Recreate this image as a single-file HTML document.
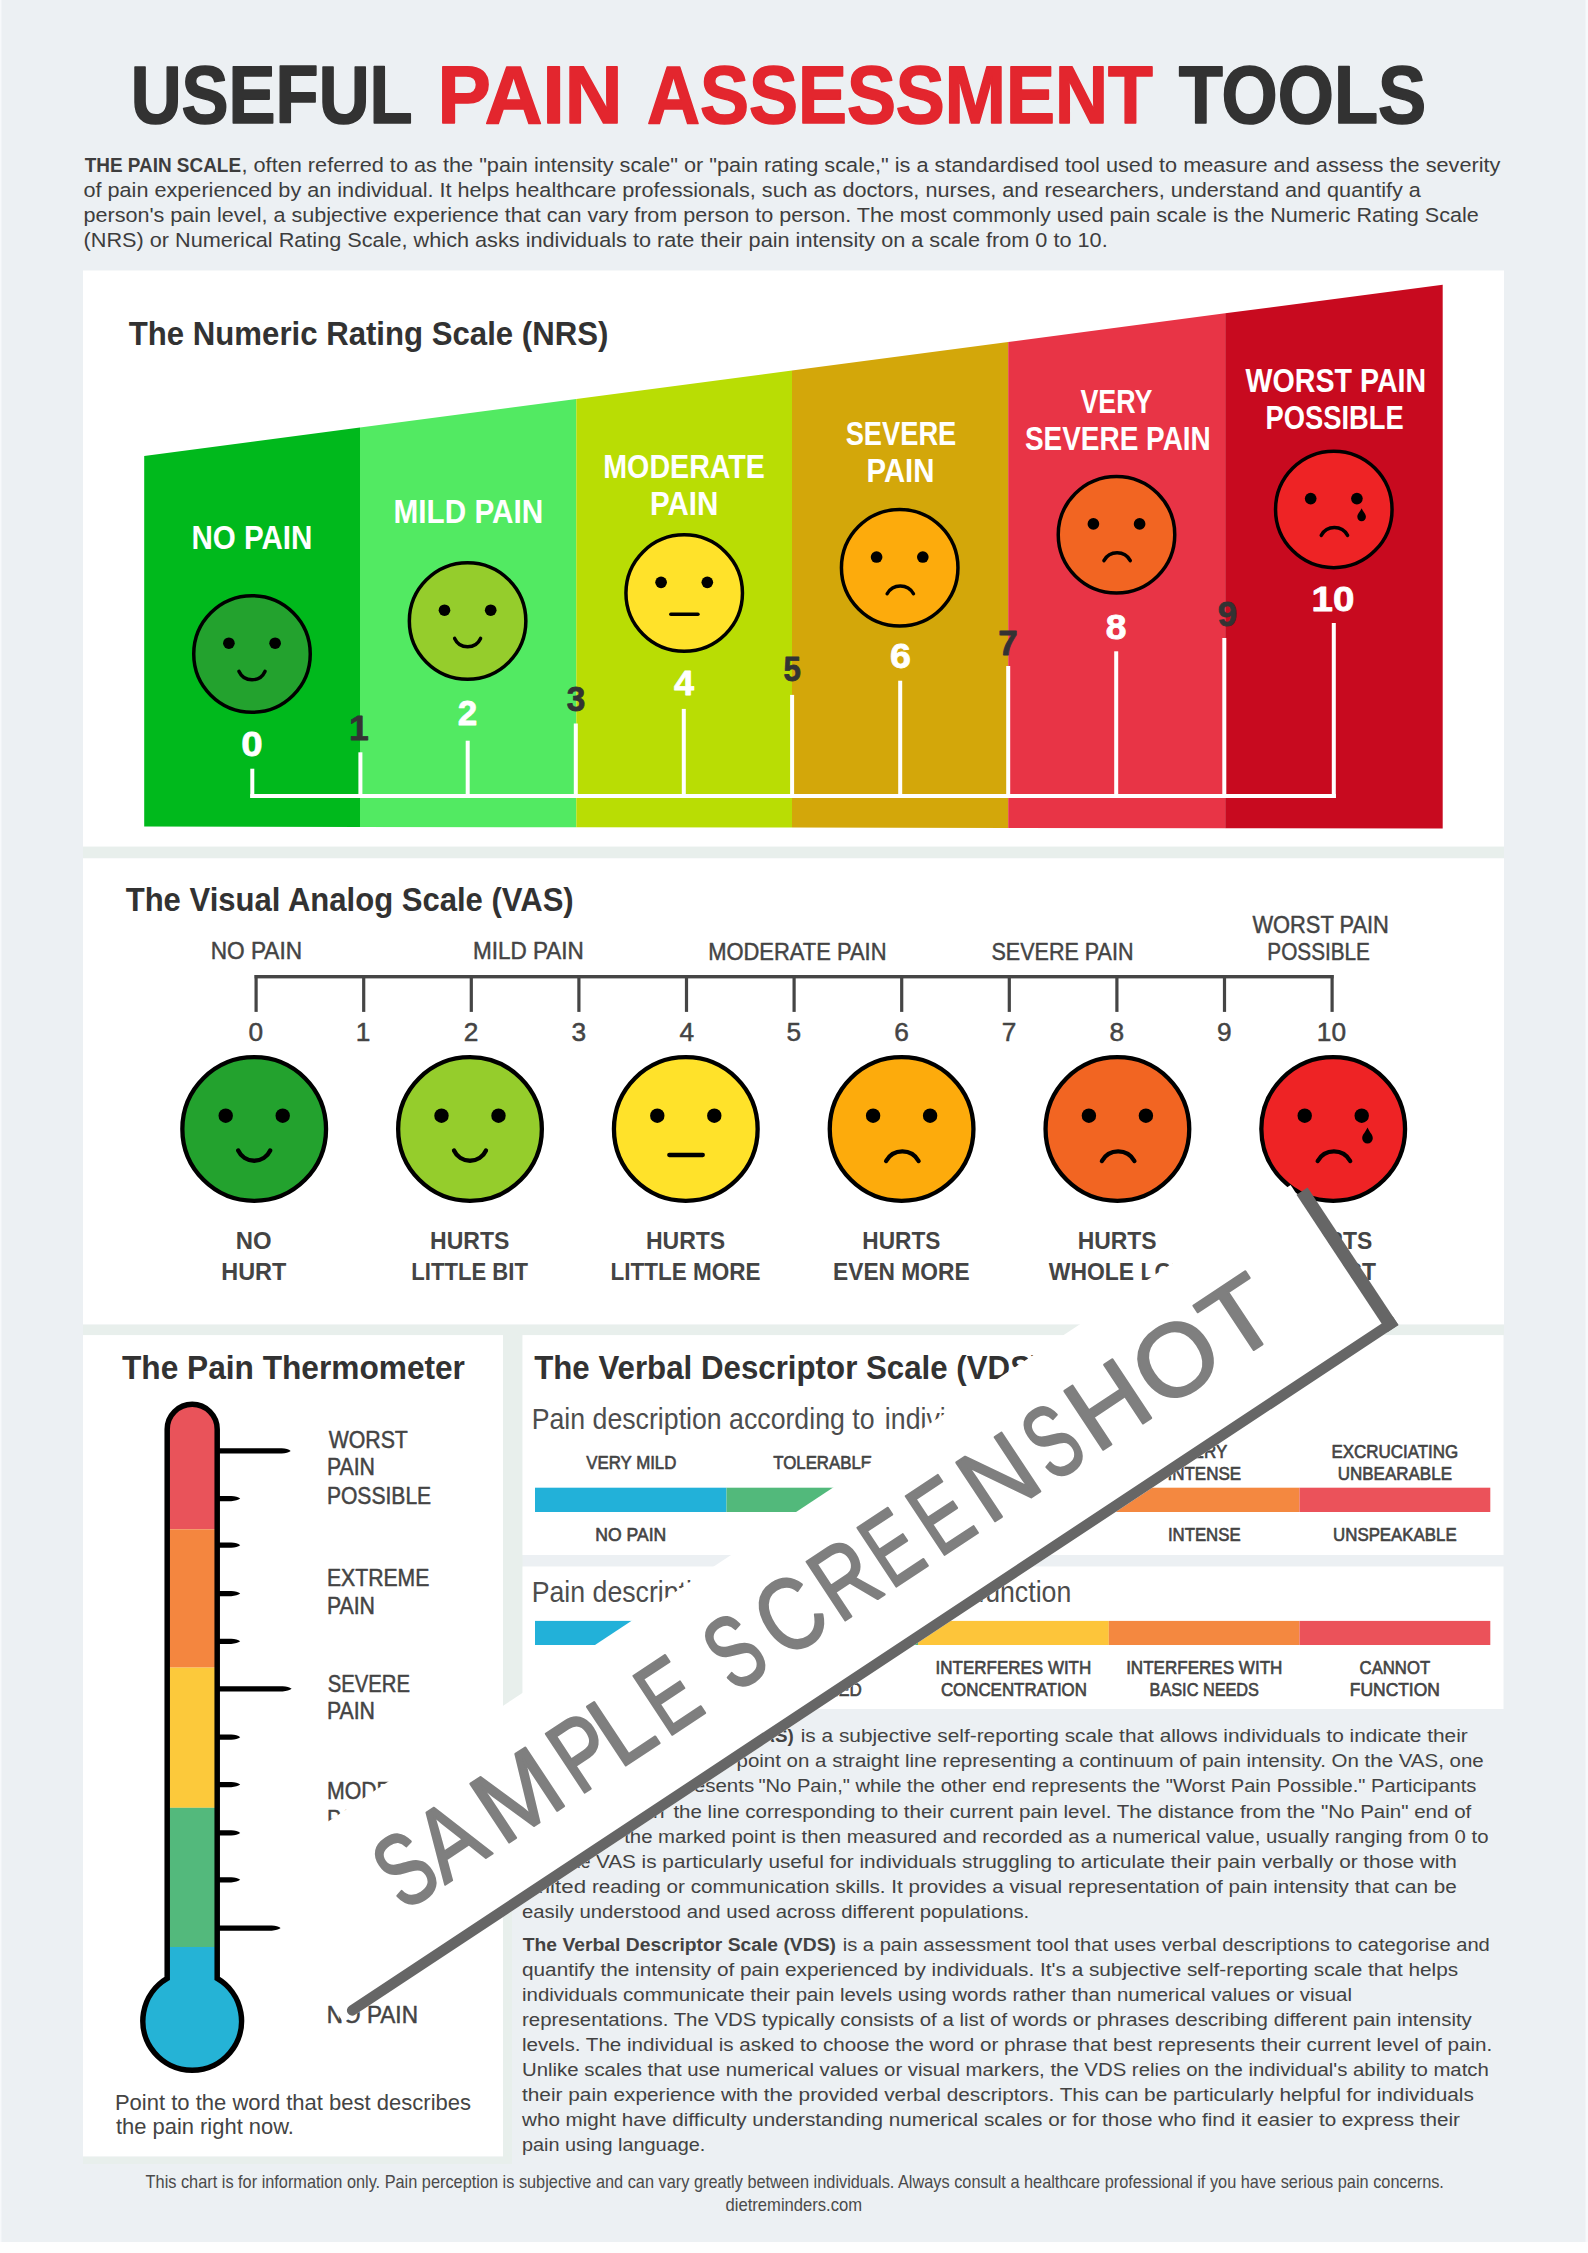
<!DOCTYPE html>
<html><head><meta charset="utf-8"><title>Useful Pain Assessment Tools</title>
<style>
html,body{margin:0;padding:0;background:#fff;}
body{width:1588px;height:2253px;overflow:hidden;position:relative;}
svg{position:absolute;left:0;top:0;}
svg text{font-family:"Liberation Sans",sans-serif;white-space:pre;}
</style></head><body>
<svg width="1588" height="2253" viewBox="0 0 1588 2253">
<rect x="0" y="0" width="1588" height="2253" fill="#FEFEFE"/>
<rect x="0" y="0" width="1588" height="2242" fill="#F7F9FB"/>
<rect x="1.5" y="0" width="1584" height="2242" fill="#ECF0F3"/>
<rect x="83.00" y="846.50" width="1421.00" height="11.80" fill="#E8EFEC"/>
<rect x="83.00" y="1324.40" width="1421.00" height="10.70" fill="#E8EFEC"/>
<rect x="503.00" y="1335.10" width="19.50" height="372.90" fill="#E8EFEC"/>
<rect x="503.00" y="1708.00" width="9.00" height="456.00" fill="#E8EFEC"/>
<rect x="83.00" y="2156.40" width="429.00" height="7.60" fill="#E8EFEC"/>
<rect x="83.00" y="270.50" width="1421.00" height="576.00" fill="#ffffff"/>
<rect x="83.00" y="858.30" width="1421.00" height="466.10" fill="#ffffff"/>
<rect x="83.00" y="1335.10" width="420.00" height="821.30" fill="#ffffff"/>
<rect x="522.50" y="1335.10" width="981.00" height="219.90" fill="#ffffff"/>
<rect x="522.50" y="1566.50" width="981.00" height="142.50" fill="#ffffff"/>
<polygon points="144.20,456.10 360.00,427.60 360.00,826.93 144.20,826.60" fill="#00B91C"/>
<polygon points="360.00,427.60 576.30,399.04 576.30,827.27 360.00,826.93" fill="#52EA62"/>
<polygon points="576.30,399.04 792.00,370.56 792.00,827.60 576.30,827.27" fill="#B9DD04"/>
<polygon points="792.00,370.56 1008.20,342.01 1008.20,827.93 792.00,827.60" fill="#D3A70A"/>
<polygon points="1008.20,342.01 1225.20,313.35 1225.20,828.26 1008.20,827.93" fill="#E83446"/>
<polygon points="1225.20,313.35 1442.70,284.63 1442.70,828.60 1225.20,828.26" fill="#C80A1F"/>
<rect x="250.30" y="768.70" width="4.00" height="29.30" fill="#ffffff"/>
<rect x="358.40" y="752.30" width="4.00" height="45.70" fill="#ffffff"/>
<rect x="465.70" y="740.70" width="4.00" height="57.30" fill="#ffffff"/>
<rect x="573.80" y="723.50" width="4.00" height="74.50" fill="#ffffff"/>
<rect x="681.80" y="708.90" width="4.00" height="89.10" fill="#ffffff"/>
<rect x="790.10" y="694.90" width="4.00" height="103.10" fill="#ffffff"/>
<rect x="898.20" y="680.70" width="4.00" height="117.30" fill="#ffffff"/>
<rect x="1006.20" y="666.00" width="4.00" height="132.00" fill="#ffffff"/>
<rect x="1114.20" y="651.30" width="4.00" height="146.70" fill="#ffffff"/>
<rect x="1222.30" y="638.00" width="4.00" height="160.00" fill="#ffffff"/>
<rect x="1331.80" y="623.00" width="4.00" height="175.00" fill="#ffffff"/>
<rect x="250.30" y="794.00" width="1085.50" height="4.00" fill="#ffffff"/>
<g transform="translate(252.00,654.00) scale(0.8108)"><circle r="71.85" fill="#23A22E" stroke="#000" stroke-width="4.3"/><circle cx="-28.5" cy="-13.3" r="7.2" fill="#000"/><circle cx="28.5" cy="-13.3" r="7.2" fill="#000"/><path d="M-16,21.5 A17.6,17.6 0 0 0 16,21.5" fill="none" stroke="#000" stroke-width="4.3" stroke-linecap="round"/></g>
<g transform="translate(467.60,621.00) scale(0.8108)"><circle r="71.85" fill="#95CD2C" stroke="#000" stroke-width="4.3"/><circle cx="-28.5" cy="-13.3" r="7.2" fill="#000"/><circle cx="28.5" cy="-13.3" r="7.2" fill="#000"/><path d="M-16,21.5 A17.6,17.6 0 0 0 16,21.5" fill="none" stroke="#000" stroke-width="4.3" stroke-linecap="round"/></g>
<g transform="translate(684.20,593.10) scale(0.8108)"><circle r="71.85" fill="#FFE22A" stroke="#000" stroke-width="4.3"/><circle cx="-28.5" cy="-13.3" r="7.2" fill="#000"/><circle cx="28.5" cy="-13.3" r="7.2" fill="#000"/><path d="M-16.5,26 L17,26" fill="none" stroke="#000" stroke-width="4.3" stroke-linecap="round"/></g>
<g transform="translate(899.70,567.80) scale(0.8108)"><circle r="71.85" fill="#FDAB0C" stroke="#000" stroke-width="4.3"/><circle cx="-28.5" cy="-13.3" r="7.2" fill="#000"/><circle cx="28.5" cy="-13.3" r="7.2" fill="#000"/><path d="M-15.5,32 A18.5,18.5 0 0 1 17,32" fill="none" stroke="#000" stroke-width="4.3" stroke-linecap="round"/></g>
<g transform="translate(1116.50,534.70) scale(0.8108)"><circle r="71.85" fill="#F26522" stroke="#000" stroke-width="4.3"/><circle cx="-28.5" cy="-13.3" r="7.2" fill="#000"/><circle cx="28.5" cy="-13.3" r="7.2" fill="#000"/><path d="M-15.5,32 A18.5,18.5 0 0 1 17,32" fill="none" stroke="#000" stroke-width="4.3" stroke-linecap="round"/></g>
<g transform="translate(1333.80,509.40) scale(0.8108)"><circle r="71.85" fill="#EE2325" stroke="#000" stroke-width="4.3"/><circle cx="-28.5" cy="-13.3" r="7.2" fill="#000"/><circle cx="28.5" cy="-13.3" r="7.2" fill="#000"/><path d="M-15.5,32 A18.5,18.5 0 0 1 17,32" fill="none" stroke="#000" stroke-width="4.3" stroke-linecap="round"/><path d="M34.3,-1.5 C36.2,3 39.6,5.5 39.6,9.2 A5.3,5.3 0 0 1 29,9.2 C29,5.5 32.4,3 34.3,-1.5 Z" fill="#000"/></g>
<g transform="translate(254.20,1129.00) scale(1.0000)"><circle r="71.85" fill="#23A22E" stroke="#000" stroke-width="4.3"/><circle cx="-28.5" cy="-13.3" r="7.2" fill="#000"/><circle cx="28.5" cy="-13.3" r="7.2" fill="#000"/><path d="M-16,21.5 A17.6,17.6 0 0 0 16,21.5" fill="none" stroke="#000" stroke-width="4.3" stroke-linecap="round"/></g>
<g transform="translate(470.00,1129.00) scale(1.0000)"><circle r="71.85" fill="#95CD2C" stroke="#000" stroke-width="4.3"/><circle cx="-28.5" cy="-13.3" r="7.2" fill="#000"/><circle cx="28.5" cy="-13.3" r="7.2" fill="#000"/><path d="M-16,21.5 A17.6,17.6 0 0 0 16,21.5" fill="none" stroke="#000" stroke-width="4.3" stroke-linecap="round"/></g>
<g transform="translate(685.80,1129.00) scale(1.0000)"><circle r="71.85" fill="#FFE22A" stroke="#000" stroke-width="4.3"/><circle cx="-28.5" cy="-13.3" r="7.2" fill="#000"/><circle cx="28.5" cy="-13.3" r="7.2" fill="#000"/><path d="M-16.5,26 L17,26" fill="none" stroke="#000" stroke-width="4.3" stroke-linecap="round"/></g>
<g transform="translate(901.60,1129.00) scale(1.0000)"><circle r="71.85" fill="#FDAB0C" stroke="#000" stroke-width="4.3"/><circle cx="-28.5" cy="-13.3" r="7.2" fill="#000"/><circle cx="28.5" cy="-13.3" r="7.2" fill="#000"/><path d="M-15.5,32 A18.5,18.5 0 0 1 17,32" fill="none" stroke="#000" stroke-width="4.3" stroke-linecap="round"/></g>
<g transform="translate(1117.40,1129.00) scale(1.0000)"><circle r="71.85" fill="#F26522" stroke="#000" stroke-width="4.3"/><circle cx="-28.5" cy="-13.3" r="7.2" fill="#000"/><circle cx="28.5" cy="-13.3" r="7.2" fill="#000"/><path d="M-15.5,32 A18.5,18.5 0 0 1 17,32" fill="none" stroke="#000" stroke-width="4.3" stroke-linecap="round"/></g>
<g transform="translate(1333.20,1129.00) scale(1.0000)"><circle r="71.85" fill="#EE2325" stroke="#000" stroke-width="4.3"/><circle cx="-28.5" cy="-13.3" r="7.2" fill="#000"/><circle cx="28.5" cy="-13.3" r="7.2" fill="#000"/><path d="M-15.5,32 A18.5,18.5 0 0 1 17,32" fill="none" stroke="#000" stroke-width="4.3" stroke-linecap="round"/><path d="M34.3,-1.5 C36.2,3 39.6,5.5 39.6,9.2 A5.3,5.3 0 0 1 29,9.2 C29,5.5 32.4,3 34.3,-1.5 Z" fill="#000"/></g>
<rect x="254.60" y="975.00" width="1079.00" height="3.40" fill="#454545"/>
<rect x="254.50" y="975.00" width="3.20" height="36.90" fill="#454545"/>
<rect x="362.10" y="975.00" width="3.20" height="36.90" fill="#454545"/>
<rect x="469.70" y="975.00" width="3.20" height="36.90" fill="#454545"/>
<rect x="577.30" y="975.00" width="3.20" height="36.90" fill="#454545"/>
<rect x="684.90" y="975.00" width="3.20" height="36.90" fill="#454545"/>
<rect x="792.50" y="975.00" width="3.20" height="36.90" fill="#454545"/>
<rect x="900.10" y="975.00" width="3.20" height="36.90" fill="#454545"/>
<rect x="1007.70" y="975.00" width="3.20" height="36.90" fill="#454545"/>
<rect x="1115.30" y="975.00" width="3.20" height="36.90" fill="#454545"/>
<rect x="1222.90" y="975.00" width="3.20" height="36.90" fill="#454545"/>
<rect x="1330.50" y="975.00" width="3.20" height="36.90" fill="#454545"/>
<clipPath id="tc"><path d="M167.2,1978.4 L167.2,1429.25 A25,25 0 0 1 217.2,1429.25 L217.2,1978.4 A49.35,49.35 0 1 1 167.2,1978.4 Z"/></clipPath>
<g clip-path="url(#tc)">
<rect x="130" y="1390.00" width="130" height="139.30" fill="#E9535A"/>
<rect x="130" y="1529.30" width="130" height="138.30" fill="#F4863F"/>
<rect x="130" y="1667.60" width="130" height="140.20" fill="#FCC93B"/>
<rect x="130" y="1807.80" width="130" height="139.20" fill="#53B97C"/>
<rect x="130" y="1947.00" width="130" height="133.00" fill="#25B3D6"/>
</g>
<path d="M167.2,1978.4 L167.2,1429.25 A25,25 0 0 1 217.2,1429.25 L217.2,1978.4 A49.35,49.35 0 1 1 167.2,1978.4 Z" fill="none" stroke="#000" stroke-width="5.5"/>
<path d="M216,1448.30 L281.70,1448.30 Q287.70,1448.70 290.70,1450.90 Q287.70,1453.10 281.70,1453.50 L216,1453.50 Z" fill="#000"/>
<path d="M216,1496.00 L231.20,1496.00 Q237.20,1496.40 240.20,1498.60 Q237.20,1500.80 231.20,1501.20 L216,1501.20 Z" fill="#000"/>
<path d="M216,1542.60 L231.20,1542.60 Q237.20,1543.00 240.20,1545.20 Q237.20,1547.40 231.20,1547.80 L216,1547.80 Z" fill="#000"/>
<path d="M216,1591.00 L231.20,1591.00 Q237.20,1591.40 240.20,1593.60 Q237.20,1595.80 231.20,1596.20 L216,1596.20 Z" fill="#000"/>
<path d="M216,1638.70 L231.20,1638.70 Q237.20,1639.10 240.20,1641.30 Q237.20,1643.50 231.20,1643.90 L216,1643.90 Z" fill="#000"/>
<path d="M216,1686.20 L282.60,1686.20 Q288.60,1686.60 291.60,1688.80 Q288.60,1691.00 282.60,1691.40 L216,1691.40 Z" fill="#000"/>
<path d="M216,1734.60 L231.20,1734.60 Q237.20,1735.00 240.20,1737.20 Q237.20,1739.40 231.20,1739.80 L216,1739.80 Z" fill="#000"/>
<path d="M216,1782.00 L231.20,1782.00 Q237.20,1782.40 240.20,1784.60 Q237.20,1786.80 231.20,1787.20 L216,1787.20 Z" fill="#000"/>
<path d="M216,1830.30 L231.20,1830.30 Q237.20,1830.70 240.20,1832.90 Q237.20,1835.10 231.20,1835.50 L216,1835.50 Z" fill="#000"/>
<path d="M216,1877.20 L231.20,1877.20 Q237.20,1877.60 240.20,1879.80 Q237.20,1882.00 231.20,1882.40 L216,1882.40 Z" fill="#000"/>
<path d="M216,1925.50 L271.70,1925.50 Q277.70,1925.90 280.70,1928.10 Q277.70,1930.30 271.70,1930.70 L216,1930.70 Z" fill="#000"/>
<rect x="535.00" y="1487.70" width="191.50" height="24.30" fill="#22B1D9"/>
<rect x="726.50" y="1487.70" width="191.50" height="24.30" fill="#52B97B"/>
<rect x="918.00" y="1487.70" width="190.80" height="24.30" fill="#FDC53A"/>
<rect x="1108.80" y="1487.70" width="190.70" height="24.30" fill="#F48840"/>
<rect x="1299.50" y="1487.70" width="190.80" height="24.30" fill="#EB525A"/>
<rect x="535.00" y="1620.90" width="191.50" height="24.10" fill="#22B1D9"/>
<rect x="726.50" y="1620.90" width="191.50" height="24.10" fill="#52B97B"/>
<rect x="918.00" y="1620.90" width="190.80" height="24.10" fill="#FDC53A"/>
<rect x="1108.80" y="1620.90" width="190.70" height="24.10" fill="#F48840"/>
<rect x="1299.50" y="1620.90" width="190.80" height="24.10" fill="#EB525A"/>
<text x="130.63" y="122.60" font-size="81.25" font-weight="bold" fill="#323232" textLength="281.99" lengthAdjust="spacingAndGlyphs" stroke="#323232" stroke-width="1.60" stroke-linejoin="round">USEFUL</text>
<text x="437.38" y="122.60" font-size="81.25" font-weight="bold" fill="#E3262E" textLength="185.02" lengthAdjust="spacingAndGlyphs" stroke="#E3262E" stroke-width="1.60" stroke-linejoin="round">PAIN</text>
<text x="646.99" y="122.60" font-size="81.25" font-weight="bold" fill="#E3262E" textLength="505.78" lengthAdjust="spacingAndGlyphs" stroke="#E3262E" stroke-width="1.60" stroke-linejoin="round">ASSESSMENT</text>
<text x="1178.80" y="122.60" font-size="81.25" font-weight="bold" fill="#323232" textLength="247.35" lengthAdjust="spacingAndGlyphs" stroke="#323232" stroke-width="1.60" stroke-linejoin="round">TOOLS</text>
<text x="84.70" y="172.40" font-size="21.08" font-weight="bold" fill="#3d3d3d" textLength="156.34" lengthAdjust="spacingAndGlyphs">THE PAIN SCALE</text>
<text x="241.47" y="172.40" font-size="21.08" fill="#3d3d3d" textLength="1258.95" lengthAdjust="spacingAndGlyphs">, often referred to as the &quot;pain intensity scale&quot; or &quot;pain rating scale,&quot; is a standardised tool used to measure and assess the severity</text>
<text x="83.50" y="197.30" font-size="21.08" fill="#3d3d3d" textLength="1337.41" lengthAdjust="spacingAndGlyphs">of pain experienced by an individual. It helps healthcare professionals, such as doctors, nurses, and researchers, understand and quantify a</text>
<text x="83.50" y="222.20" font-size="21.08" fill="#3d3d3d" textLength="1395.23" lengthAdjust="spacingAndGlyphs">person's pain level, a subjective experience that can vary from person to person. The most commonly used pain scale is the Numeric Rating Scale</text>
<text x="83.50" y="247.10" font-size="21.08" fill="#3d3d3d" textLength="1024.21" lengthAdjust="spacingAndGlyphs">(NRS) or Numerical Rating Scale, which asks individuals to rate their pain intensity on a scale from 0 to 10.</text>
<text x="128.80" y="345.30" font-size="32.99" font-weight="bold" fill="#323232" textLength="479.53" lengthAdjust="spacingAndGlyphs">The Numeric Rating Scale (NRS)</text>
<text x="125.70" y="910.90" font-size="32.99" font-weight="bold" fill="#323232" textLength="448.02" lengthAdjust="spacingAndGlyphs">The Visual Analog Scale (VAS)</text>
<text x="122.00" y="1378.80" font-size="32.99" font-weight="bold" fill="#323232" textLength="342.94" lengthAdjust="spacingAndGlyphs">The Pain Thermometer</text>
<text x="534.20" y="1378.50" font-size="32.99" font-weight="bold" fill="#323232" textLength="507.25" lengthAdjust="spacingAndGlyphs">The Verbal Descriptor Scale (VDS)</text>
<text x="191.43" y="548.70" font-size="33.43" font-weight="bold" fill="#ffffff" textLength="120.85" lengthAdjust="spacingAndGlyphs">NO PAIN</text>
<text x="393.62" y="522.60" font-size="33.43" font-weight="bold" fill="#ffffff" textLength="149.58" lengthAdjust="spacingAndGlyphs">MILD PAIN</text>
<text x="603.29" y="477.60" font-size="33.43" font-weight="bold" fill="#ffffff" textLength="161.62" lengthAdjust="spacingAndGlyphs">MODERATE</text>
<text x="649.93" y="514.70" font-size="33.43" font-weight="bold" fill="#ffffff" textLength="68.35" lengthAdjust="spacingAndGlyphs">PAIN</text>
<text x="845.70" y="444.80" font-size="33.43" font-weight="bold" fill="#ffffff" textLength="110.55" lengthAdjust="spacingAndGlyphs">SEVERE</text>
<text x="866.54" y="481.90" font-size="33.43" font-weight="bold" fill="#ffffff" textLength="67.93" lengthAdjust="spacingAndGlyphs">PAIN</text>
<text x="1080.40" y="413.10" font-size="33.43" font-weight="bold" fill="#ffffff" textLength="72.03" lengthAdjust="spacingAndGlyphs">VERY</text>
<text x="1024.90" y="450.20" font-size="33.43" font-weight="bold" fill="#ffffff" textLength="185.89" lengthAdjust="spacingAndGlyphs">SEVERE PAIN</text>
<text x="1245.60" y="392.00" font-size="33.43" font-weight="bold" fill="#ffffff" textLength="180.53" lengthAdjust="spacingAndGlyphs">WORST PAIN</text>
<text x="1265.57" y="428.50" font-size="33.43" font-weight="bold" fill="#ffffff" textLength="138.09" lengthAdjust="spacingAndGlyphs">POSSIBLE</text>
<text x="241.28" y="755.60" font-size="35.84" font-weight="bold" fill="#ffffff" textLength="21.36" lengthAdjust="spacingAndGlyphs" stroke="#ffffff" stroke-width="0.80" stroke-linejoin="round">0</text>
<text x="349.06" y="740.10" font-size="35.84" font-weight="bold" fill="#333333" textLength="19.81" lengthAdjust="spacingAndGlyphs" stroke="#333333" stroke-width="0.80" stroke-linejoin="round">1</text>
<text x="457.82" y="724.90" font-size="35.84" font-weight="bold" fill="#ffffff" textLength="19.48" lengthAdjust="spacingAndGlyphs" stroke="#ffffff" stroke-width="0.80" stroke-linejoin="round">2</text>
<text x="566.75" y="711.30" font-size="35.84" font-weight="bold" fill="#333333" textLength="18.56" lengthAdjust="spacingAndGlyphs" stroke="#333333" stroke-width="0.80" stroke-linejoin="round">3</text>
<text x="673.95" y="695.00" font-size="35.84" font-weight="bold" fill="#ffffff" textLength="20.03" lengthAdjust="spacingAndGlyphs" stroke="#ffffff" stroke-width="0.80" stroke-linejoin="round">4</text>
<text x="783.48" y="681.00" font-size="35.84" font-weight="bold" fill="#333333" textLength="17.38" lengthAdjust="spacingAndGlyphs" stroke="#333333" stroke-width="0.80" stroke-linejoin="round">5</text>
<text x="890.10" y="667.50" font-size="35.84" font-weight="bold" fill="#ffffff" textLength="20.92" lengthAdjust="spacingAndGlyphs" stroke="#ffffff" stroke-width="0.80" stroke-linejoin="round">6</text>
<text x="998.32" y="654.50" font-size="35.84" font-weight="bold" fill="#333333" textLength="19.48" lengthAdjust="spacingAndGlyphs" stroke="#333333" stroke-width="0.80" stroke-linejoin="round">7</text>
<text x="1105.81" y="638.60" font-size="35.84" font-weight="bold" fill="#ffffff" textLength="20.70" lengthAdjust="spacingAndGlyphs" stroke="#ffffff" stroke-width="0.80" stroke-linejoin="round">8</text>
<text x="1217.78" y="626.20" font-size="35.84" font-weight="bold" fill="#333333" textLength="19.37" lengthAdjust="spacingAndGlyphs" stroke="#333333" stroke-width="0.80" stroke-linejoin="round">9</text>
<text x="1311.60" y="610.70" font-size="35.84" font-weight="bold" fill="#ffffff" textLength="42.85" lengthAdjust="spacingAndGlyphs" stroke="#ffffff" stroke-width="0.80" stroke-linejoin="round">10</text>
<text x="210.65" y="959.48" font-size="23.33" fill="#444444" textLength="91.40" lengthAdjust="spacingAndGlyphs" stroke="#444444" stroke-width="0.45" stroke-linejoin="round">NO PAIN</text>
<text x="472.96" y="959.48" font-size="23.33" fill="#444444" textLength="110.89" lengthAdjust="spacingAndGlyphs" stroke="#444444" stroke-width="0.45" stroke-linejoin="round">MILD PAIN</text>
<text x="708.18" y="960.38" font-size="23.33" fill="#444444" textLength="178.32" lengthAdjust="spacingAndGlyphs" stroke="#444444" stroke-width="0.45" stroke-linejoin="round">MODERATE PAIN</text>
<text x="991.50" y="960.38" font-size="23.33" fill="#444444" textLength="141.97" lengthAdjust="spacingAndGlyphs" stroke="#444444" stroke-width="0.45" stroke-linejoin="round">SEVERE PAIN</text>
<text x="1252.42" y="933.38" font-size="23.33" fill="#444444" textLength="136.47" lengthAdjust="spacingAndGlyphs" stroke="#444444" stroke-width="0.45" stroke-linejoin="round">WORST PAIN</text>
<text x="1267.34" y="960.38" font-size="23.33" fill="#444444" textLength="102.63" lengthAdjust="spacingAndGlyphs" stroke="#444444" stroke-width="0.45" stroke-linejoin="round">POSSIBLE</text>
<text x="248.60" y="1041.05" font-size="26.27" fill="#444444" stroke="#444444" stroke-width="0.50" stroke-linejoin="round">0</text>
<text x="355.70" y="1041.05" font-size="26.27" fill="#444444" stroke="#444444" stroke-width="0.50" stroke-linejoin="round">1</text>
<text x="463.80" y="1041.05" font-size="26.27" fill="#444444" stroke="#444444" stroke-width="0.50" stroke-linejoin="round">2</text>
<text x="571.40" y="1041.05" font-size="26.27" fill="#444444" stroke="#444444" stroke-width="0.50" stroke-linejoin="round">3</text>
<text x="679.50" y="1041.05" font-size="26.27" fill="#444444" stroke="#444444" stroke-width="0.50" stroke-linejoin="round">4</text>
<text x="786.60" y="1041.05" font-size="26.27" fill="#444444" stroke="#444444" stroke-width="0.50" stroke-linejoin="round">5</text>
<text x="894.20" y="1041.05" font-size="26.27" fill="#444444" stroke="#444444" stroke-width="0.50" stroke-linejoin="round">6</text>
<text x="1001.80" y="1041.05" font-size="26.27" fill="#444444" stroke="#444444" stroke-width="0.50" stroke-linejoin="round">7</text>
<text x="1109.40" y="1041.05" font-size="26.27" fill="#444444" stroke="#444444" stroke-width="0.50" stroke-linejoin="round">8</text>
<text x="1217.00" y="1041.05" font-size="26.27" fill="#444444" stroke="#444444" stroke-width="0.50" stroke-linejoin="round">9</text>
<text x="1316.80" y="1041.05" font-size="26.27" fill="#444444" stroke="#444444" stroke-width="0.50" stroke-linejoin="round">10</text>
<text x="235.82" y="1248.50" font-size="23.26" font-weight="bold" fill="#444444" textLength="35.81" lengthAdjust="spacingAndGlyphs">NO</text>
<text x="221.24" y="1279.50" font-size="23.26" font-weight="bold" fill="#444444" textLength="65.11" lengthAdjust="spacingAndGlyphs">HURT</text>
<text x="430.11" y="1248.50" font-size="23.26" font-weight="bold" fill="#444444" textLength="79.29" lengthAdjust="spacingAndGlyphs">HURTS</text>
<text x="411.35" y="1279.50" font-size="23.26" font-weight="bold" fill="#444444" textLength="116.54" lengthAdjust="spacingAndGlyphs">LITTLE BIT</text>
<text x="645.91" y="1248.50" font-size="23.26" font-weight="bold" fill="#444444" textLength="79.29" lengthAdjust="spacingAndGlyphs">HURTS</text>
<text x="610.53" y="1279.50" font-size="23.26" font-weight="bold" fill="#444444" textLength="150.06" lengthAdjust="spacingAndGlyphs">LITTLE MORE</text>
<text x="862.33" y="1248.50" font-size="23.26" font-weight="bold" fill="#444444" textLength="78.07" lengthAdjust="spacingAndGlyphs">HURTS</text>
<text x="833.12" y="1279.50" font-size="23.26" font-weight="bold" fill="#444444" textLength="136.47" lengthAdjust="spacingAndGlyphs">EVEN MORE</text>
<text x="1077.68" y="1248.50" font-size="23.26" font-weight="bold" fill="#444444" textLength="78.95" lengthAdjust="spacingAndGlyphs">HURTS</text>
<text x="1048.75" y="1279.50" font-size="23.26" font-weight="bold" fill="#444444" textLength="137.50" lengthAdjust="spacingAndGlyphs">WHOLE LOT</text>
<text x="1293.48" y="1248.50" font-size="23.26" font-weight="bold" fill="#444444" textLength="78.95" lengthAdjust="spacingAndGlyphs">HURTS</text>
<text x="1290.65" y="1279.50" font-size="23.26" font-weight="bold" fill="#444444" textLength="85.30" lengthAdjust="spacingAndGlyphs">WORST</text>
<text x="328.65" y="1448.25" font-size="24.42" fill="#444444" textLength="79.18" lengthAdjust="spacingAndGlyphs" stroke="#444444" stroke-width="0.50" stroke-linejoin="round">WORST</text>
<text x="326.91" y="1475.45" font-size="24.42" fill="#444444" textLength="48.08" lengthAdjust="spacingAndGlyphs" stroke="#444444" stroke-width="0.50" stroke-linejoin="round">PAIN</text>
<text x="326.92" y="1503.55" font-size="24.42" fill="#444444" textLength="104.27" lengthAdjust="spacingAndGlyphs" stroke="#444444" stroke-width="0.50" stroke-linejoin="round">POSSIBLE</text>
<text x="326.91" y="1585.75" font-size="24.42" fill="#444444" textLength="102.48" lengthAdjust="spacingAndGlyphs" stroke="#444444" stroke-width="0.50" stroke-linejoin="round">EXTREME</text>
<text x="326.91" y="1613.55" font-size="24.42" fill="#444444" textLength="48.08" lengthAdjust="spacingAndGlyphs" stroke="#444444" stroke-width="0.50" stroke-linejoin="round">PAIN</text>
<text x="327.82" y="1691.55" font-size="24.42" fill="#444444" textLength="82.16" lengthAdjust="spacingAndGlyphs" stroke="#444444" stroke-width="0.50" stroke-linejoin="round">SEVERE</text>
<text x="326.91" y="1719.35" font-size="24.42" fill="#444444" textLength="48.08" lengthAdjust="spacingAndGlyphs" stroke="#444444" stroke-width="0.50" stroke-linejoin="round">PAIN</text>
<text x="326.91" y="1799.35" font-size="24.42" fill="#444444" textLength="118.99" lengthAdjust="spacingAndGlyphs" stroke="#444444" stroke-width="0.50" stroke-linejoin="round">MODERATE</text>
<text x="326.91" y="1827.15" font-size="24.42" fill="#444444" textLength="48.08" lengthAdjust="spacingAndGlyphs" stroke="#444444" stroke-width="0.50" stroke-linejoin="round">PAIN</text>
<text x="326.91" y="1904.75" font-size="24.42" fill="#444444" textLength="50.83" lengthAdjust="spacingAndGlyphs" stroke="#444444" stroke-width="0.50" stroke-linejoin="round">MILD</text>
<text x="326.91" y="1932.55" font-size="24.42" fill="#444444" textLength="48.08" lengthAdjust="spacingAndGlyphs" stroke="#444444" stroke-width="0.50" stroke-linejoin="round">PAIN</text>
<text x="326.80" y="2023.15" font-size="24.42" fill="#444444" textLength="91.15" lengthAdjust="spacingAndGlyphs" stroke="#444444" stroke-width="0.50" stroke-linejoin="round">NO PAIN</text>
<text x="114.90" y="2109.50" font-size="21.95" fill="#444444" textLength="356.17" lengthAdjust="spacingAndGlyphs">Point to the word that best describes</text>
<text x="115.90" y="2134.30" font-size="21.95" fill="#444444">the pain right now.</text>
<text x="531.73" y="1428.70" font-size="28.63" fill="#4d4d4d" textLength="342.82" lengthAdjust="spacingAndGlyphs">Pain description according to</text>
<text x="884.87" y="1428.70" font-size="28.63" fill="#4d4d4d" textLength="249.34" lengthAdjust="spacingAndGlyphs">individual experience</text>
<text x="531.73" y="1601.90" font-size="28.63" fill="#4d4d4d" textLength="434.83" lengthAdjust="spacingAndGlyphs">Pain description according to level of</text>
<text x="977.75" y="1601.90" font-size="28.63" fill="#4d4d4d" textLength="93.51" lengthAdjust="spacingAndGlyphs">function</text>
<text x="586.25" y="1469.30" font-size="17.59" fill="#444444" textLength="90.16" lengthAdjust="spacingAndGlyphs" stroke="#444444" stroke-width="0.60" stroke-linejoin="round">VERY MILD</text>
<text x="773.20" y="1469.30" font-size="17.59" fill="#444444" textLength="98.89" lengthAdjust="spacingAndGlyphs" stroke="#444444" stroke-width="0.60" stroke-linejoin="round">TOLERABLE</text>
<text x="955.88" y="1469.30" font-size="17.59" fill="#444444" textLength="115.12" lengthAdjust="spacingAndGlyphs" stroke="#444444" stroke-width="0.60" stroke-linejoin="round">DISTRESSING</text>
<text x="1181.30" y="1458.10" font-size="17.59" fill="#444444" textLength="45.94" lengthAdjust="spacingAndGlyphs" stroke="#444444" stroke-width="0.60" stroke-linejoin="round">VERY</text>
<text x="1167.47" y="1479.80" font-size="17.59" fill="#444444" textLength="73.60" lengthAdjust="spacingAndGlyphs" stroke="#444444" stroke-width="0.60" stroke-linejoin="round">INTENSE</text>
<text x="1331.39" y="1458.10" font-size="17.59" fill="#444444" textLength="126.91" lengthAdjust="spacingAndGlyphs" stroke="#444444" stroke-width="0.60" stroke-linejoin="round">EXCRUCIATING</text>
<text x="1337.77" y="1479.80" font-size="17.59" fill="#444444" textLength="114.20" lengthAdjust="spacingAndGlyphs" stroke="#444444" stroke-width="0.60" stroke-linejoin="round">UNBEARABLE</text>
<text x="595.30" y="1541.00" font-size="17.59" fill="#444444" stroke="#444444" stroke-width="0.60" stroke-linejoin="round">NO PAIN</text>
<text x="801.87" y="1541.00" font-size="17.59" fill="#444444" textLength="40.57" lengthAdjust="spacingAndGlyphs" stroke="#444444" stroke-width="0.60" stroke-linejoin="round">MILD</text>
<text x="965.98" y="1541.00" font-size="17.59" fill="#444444" textLength="94.97" lengthAdjust="spacingAndGlyphs" stroke="#444444" stroke-width="0.60" stroke-linejoin="round">MODERATE</text>
<text x="1167.90" y="1541.00" font-size="17.59" fill="#444444" textLength="72.75" lengthAdjust="spacingAndGlyphs" stroke="#444444" stroke-width="0.60" stroke-linejoin="round">INTENSE</text>
<text x="1333.09" y="1541.00" font-size="17.59" fill="#444444" textLength="123.55" lengthAdjust="spacingAndGlyphs" stroke="#444444" stroke-width="0.60" stroke-linejoin="round">UNSPEAKABLE</text>
<text x="595.30" y="1684.70" font-size="17.59" fill="#444444" stroke="#444444" stroke-width="0.60" stroke-linejoin="round">NO PAIN</text>
<text x="791.04" y="1673.70" font-size="17.59" fill="#444444" textLength="63.23" lengthAdjust="spacingAndGlyphs" stroke="#444444" stroke-width="0.60" stroke-linejoin="round">CAN BE</text>
<text x="782.53" y="1695.50" font-size="17.59" fill="#444444" textLength="79.25" lengthAdjust="spacingAndGlyphs" stroke="#444444" stroke-width="0.60" stroke-linejoin="round">IGNORED</text>
<text x="935.62" y="1673.70" font-size="17.59" fill="#444444" textLength="155.66" lengthAdjust="spacingAndGlyphs" stroke="#444444" stroke-width="0.60" stroke-linejoin="round">INTERFERES WITH</text>
<text x="940.90" y="1695.50" font-size="17.59" fill="#444444" textLength="146.07" lengthAdjust="spacingAndGlyphs" stroke="#444444" stroke-width="0.60" stroke-linejoin="round">CONCENTRATION</text>
<text x="1126.13" y="1673.70" font-size="17.59" fill="#444444" textLength="156.24" lengthAdjust="spacingAndGlyphs" stroke="#444444" stroke-width="0.60" stroke-linejoin="round">INTERFERES WITH</text>
<text x="1149.57" y="1695.50" font-size="17.59" fill="#444444" textLength="109.40" lengthAdjust="spacingAndGlyphs" stroke="#444444" stroke-width="0.60" stroke-linejoin="round">BASIC NEEDS</text>
<text x="1359.60" y="1673.70" font-size="17.59" fill="#444444" textLength="70.55" lengthAdjust="spacingAndGlyphs" stroke="#444444" stroke-width="0.60" stroke-linejoin="round">CANNOT</text>
<text x="1349.81" y="1695.50" font-size="17.59" fill="#444444" textLength="90.08" lengthAdjust="spacingAndGlyphs" stroke="#444444" stroke-width="0.60" stroke-linejoin="round">FUNCTION</text>
<text x="522.80" y="1742.30" font-size="18.90" font-weight="bold" fill="#424242" textLength="270.88" lengthAdjust="spacingAndGlyphs">The Visual Analog Scale (VAS)</text>
<text x="800.70" y="1742.30" font-size="18.90" fill="#424242" textLength="667.02" lengthAdjust="spacingAndGlyphs">is a subjective self-reporting scale that allows individuals to indicate their</text>
<text x="521.87" y="1767.37" font-size="18.90" fill="#424242" textLength="207.66" lengthAdjust="spacingAndGlyphs">pain intensity by marking a</text>
<text x="736.51" y="1767.37" font-size="18.90" fill="#424242" textLength="747.22" lengthAdjust="spacingAndGlyphs">point on a straight line representing a continuum of pain intensity. On the VAS, one</text>
<text x="522.80" y="1792.44" font-size="18.90" fill="#424242" textLength="231.38" lengthAdjust="spacingAndGlyphs">end of the line represents</text>
<text x="758.40" y="1792.44" font-size="18.90" fill="#424242" textLength="717.97" lengthAdjust="spacingAndGlyphs">&quot;No Pain,&quot; while the other end represents the &quot;Worst Pain Possible.&quot; Participants</text>
<text x="521.70" y="1817.51" font-size="18.90" fill="#424242" textLength="142.74" lengthAdjust="spacingAndGlyphs">mark a point on</text>
<text x="673.40" y="1817.51" font-size="18.90" fill="#424242" textLength="797.88" lengthAdjust="spacingAndGlyphs">the line corresponding to their current pain level. The distance from the &quot;No Pain&quot; end of</text>
<text x="522.80" y="1842.58" font-size="18.90" fill="#424242" textLength="94.78" lengthAdjust="spacingAndGlyphs">the line to</text>
<text x="624.20" y="1842.58" font-size="18.90" fill="#424242" textLength="864.34" lengthAdjust="spacingAndGlyphs">the marked point is then measured and recorded as a numerical value, usually ranging from 0 to</text>
<text x="521.88" y="1867.65" font-size="18.90" fill="#424242" textLength="68.58" lengthAdjust="spacingAndGlyphs">100. The</text>
<text x="595.90" y="1867.65" font-size="18.90" fill="#424242" textLength="860.85" lengthAdjust="spacingAndGlyphs">VAS is particularly useful for individuals struggling to articulate their pain verbally or those with</text>
<text x="521.62" y="1892.72" font-size="18.90" fill="#424242" textLength="64.47" lengthAdjust="spacingAndGlyphs">limited</text>
<text x="592.01" y="1892.72" font-size="18.90" fill="#424242" textLength="864.74" lengthAdjust="spacingAndGlyphs">reading or communication skills. It provides a visual representation of pain intensity that can be</text>
<text x="522.00" y="1917.79" font-size="18.90" fill="#424242" textLength="507.24" lengthAdjust="spacingAndGlyphs">easily understood and used across different populations.</text>
<text x="522.80" y="1950.60" font-size="18.90" font-weight="bold" fill="#424242" textLength="313.19" lengthAdjust="spacingAndGlyphs">The Verbal Descriptor Scale (VDS)</text>
<text x="842.73" y="1950.60" font-size="18.90" fill="#424242" textLength="647.10" lengthAdjust="spacingAndGlyphs">is a pain assessment tool that uses verbal descriptions to categorise and</text>
<text x="522.00" y="1975.69" font-size="18.90" fill="#424242" textLength="936.08" lengthAdjust="spacingAndGlyphs">quantify the intensity of pain experienced by individuals. It's a subjective self-reporting scale that helps</text>
<text x="522.00" y="2000.78" font-size="18.90" fill="#424242" textLength="829.99" lengthAdjust="spacingAndGlyphs">individuals communicate their pain levels using words rather than numerical values or visual</text>
<text x="522.00" y="2025.87" font-size="18.90" fill="#424242" textLength="949.79" lengthAdjust="spacingAndGlyphs">representations. The VDS typically consists of a list of words or phrases describing different pain intensity</text>
<text x="522.00" y="2050.96" font-size="18.90" fill="#424242" textLength="970.26" lengthAdjust="spacingAndGlyphs">levels. The individual is asked to choose the word or phrase that best represents their current level of pain.</text>
<text x="522.00" y="2076.05" font-size="18.90" fill="#424242" textLength="966.84" lengthAdjust="spacingAndGlyphs">Unlike scales that use numerical values or visual markers, the VDS relies on the individual's ability to match</text>
<text x="522.00" y="2101.14" font-size="18.90" fill="#424242" textLength="951.88" lengthAdjust="spacingAndGlyphs">their pain experience with the provided verbal descriptors. This can be particularly helpful for individuals</text>
<text x="522.00" y="2126.23" font-size="18.90" fill="#424242" textLength="938.01" lengthAdjust="spacingAndGlyphs">who might have difficulty understanding numerical scales or for those who find it easier to express their</text>
<text x="522.00" y="2151.32" font-size="18.90" fill="#424242" textLength="183.31" lengthAdjust="spacingAndGlyphs">pain using language.</text>
<text x="145.60" y="2187.70" font-size="17.59" fill="#4a4a4a" textLength="1298.32" lengthAdjust="spacingAndGlyphs">This chart is for information only. Pain perception is subjective and can vary greatly between individuals. Always consult a healthcare professional if you have serious pain concerns.</text>
<text x="725.50" y="2211.20" font-size="17.59" fill="#4a4a4a" textLength="136.61" lengthAdjust="spacingAndGlyphs">dietreminders.com</text>
<g transform="translate(821.30,1599.40) rotate(-33.470)">
<rect x="-632" y="-86.8" width="1252" height="176.2" fill="#ffffff"/>
<path d="M-618,78.9 L632.8,78.9 L632.8,89.4 L-618,89.4 A5.25,5.25 0 0 1 -618,78.9 Z" fill="#666666"/>
<rect x="619.5" y="-75.4" width="13.3" height="164.8" fill="#666666"/>
<text x="-520.81" y="30.55" font-size="102.03" fill="#7f7f7f" textLength="49.56" lengthAdjust="spacingAndGlyphs" stroke="#7f7f7f" stroke-width="2.30" stroke-linejoin="round">S</text>
<text x="-471.40" y="30.55" font-size="102.03" fill="#7f7f7f" textLength="57.24" lengthAdjust="spacingAndGlyphs" stroke="#7f7f7f" stroke-width="2.30" stroke-linejoin="round">A</text>
<text x="-402.30" y="30.55" font-size="102.03" fill="#7f7f7f" textLength="81.78" lengthAdjust="spacingAndGlyphs" stroke="#7f7f7f" stroke-width="2.30" stroke-linejoin="round">M</text>
<text x="-310.80" y="30.55" font-size="102.03" fill="#7f7f7f" textLength="53.57" lengthAdjust="spacingAndGlyphs" stroke="#7f7f7f" stroke-width="2.30" stroke-linejoin="round">P</text>
<text x="-262.00" y="30.55" font-size="102.03" fill="#7f7f7f" textLength="51.06" lengthAdjust="spacingAndGlyphs" stroke="#7f7f7f" stroke-width="2.30" stroke-linejoin="round">L</text>
<text x="-205.26" y="30.55" font-size="102.03" fill="#7f7f7f" textLength="48.97" lengthAdjust="spacingAndGlyphs" stroke="#7f7f7f" stroke-width="2.30" stroke-linejoin="round">E</text>
<text x="-124.68" y="30.55" font-size="102.03" fill="#7f7f7f" textLength="47.29" lengthAdjust="spacingAndGlyphs" stroke="#7f7f7f" stroke-width="2.30" stroke-linejoin="round">S</text>
<text x="-65.03" y="30.55" font-size="102.03" fill="#7f7f7f" textLength="60.86" lengthAdjust="spacingAndGlyphs" stroke="#7f7f7f" stroke-width="2.30" stroke-linejoin="round">C</text>
<text x="1.84" y="30.55" font-size="102.03" fill="#7f7f7f" textLength="57.61" lengthAdjust="spacingAndGlyphs" stroke="#7f7f7f" stroke-width="2.30" stroke-linejoin="round">R</text>
<text x="63.57" y="30.55" font-size="102.03" fill="#7f7f7f" textLength="47.02" lengthAdjust="spacingAndGlyphs" stroke="#7f7f7f" stroke-width="2.30" stroke-linejoin="round">E</text>
<text x="121.06" y="30.55" font-size="102.03" fill="#7f7f7f" textLength="49.70" lengthAdjust="spacingAndGlyphs" stroke="#7f7f7f" stroke-width="2.30" stroke-linejoin="round">E</text>
<text x="180.10" y="30.55" font-size="102.03" fill="#7f7f7f" textLength="69.99" lengthAdjust="spacingAndGlyphs" stroke="#7f7f7f" stroke-width="2.30" stroke-linejoin="round">N</text>
<text x="257.43" y="30.55" font-size="102.03" fill="#7f7f7f" textLength="45.36" lengthAdjust="spacingAndGlyphs" stroke="#7f7f7f" stroke-width="2.30" stroke-linejoin="round">S</text>
<text x="309.46" y="30.55" font-size="102.03" fill="#7f7f7f" textLength="74.05" lengthAdjust="spacingAndGlyphs" stroke="#7f7f7f" stroke-width="2.30" stroke-linejoin="round">H</text>
<text x="386.98" y="30.55" font-size="102.03" fill="#7f7f7f" textLength="81.81" lengthAdjust="spacingAndGlyphs" stroke="#7f7f7f" stroke-width="2.30" stroke-linejoin="round">O</text>
<text x="470.16" y="30.55" font-size="102.03" fill="#7f7f7f" textLength="66.83" lengthAdjust="spacingAndGlyphs" stroke="#7f7f7f" stroke-width="2.30" stroke-linejoin="round">T</text>
</g>
</svg>
</body></html>
